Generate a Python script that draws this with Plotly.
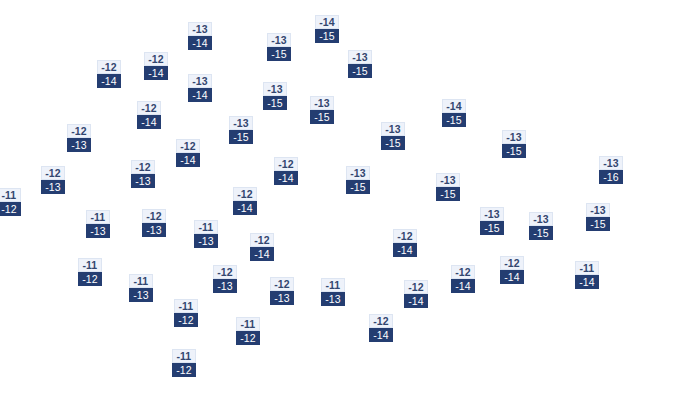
import plotly.graph_objects as go

# Station map positions (map units, y grows downward) and forecast values
site_x = [200, 327, 279, 156, 109, 360, 200, 275, 322, 149, 454, 241, 79, 393, 514,
          188, 286, 358, 611, 53, 143, 448, 9, 245, 98, 154, 492, 541, 598, 206,
          262, 405, 90, 512, 463, 587, 141, 225, 282, 333, 416, 186, 248, 381, 184]
site_y = [36, 29, 47, 66, 74, 64, 88, 96, 110, 115, 113, 130, 138, 136, 144,
          153, 171, 180, 170, 180, 174, 187, 202, 201, 224, 223, 221, 226, 217, 234,
          247, 243, 272, 270, 279, 275, 288, 279, 291, 292, 294, 313, 331, 328, 363]
high = [-13, -14, -13, -12, -12, -13, -13, -13, -13, -12, -14, -13, -12, -13, -13,
        -12, -12, -13, -13, -12, -12, -13, -11, -12, -11, -12, -13, -13, -13, -11,
        -12, -12, -11, -12, -12, -11, -11, -12, -12, -11, -12, -11, -11, -12, -11]
low = [-14, -15, -15, -14, -14, -15, -14, -15, -15, -14, -15, -15, -13, -15, -15,
       -14, -14, -15, -16, -13, -13, -15, -12, -14, -13, -13, -15, -15, -15, -13,
       -14, -14, -12, -14, -14, -14, -13, -13, -13, -13, -14, -12, -12, -14, -12]

fig = go.Figure()
fig.add_trace(go.Scatter(x=site_x, y=site_y, mode="markers",
                         marker=dict(size=1, opacity=0), hoverinfo="skip",
                         showlegend=False))

annotations = []
for x, y, h, l in zip(site_x, site_y, high, low):
    annotations.append(dict(
        x=x, y=y, xref="x", yref="y", text=f"<b>{h}</b>", showarrow=False,
        xanchor="center", yanchor="bottom", width=22, height=12,
        bgcolor="#eef2fa", bordercolor="#dde5f2", borderwidth=1, borderpad=0,
        font=dict(family="Liberation Sans, Arial, sans-serif", size=10.5, color="#33466f")))
    annotations.append(dict(
        x=x, y=y, xref="x", yref="y", text=f"{l}", showarrow=False,
        xanchor="center", yanchor="top", width=22, height=12,
        bgcolor="#243d71", bordercolor="#243d71", borderwidth=1, borderpad=0,
        font=dict(family="Liberation Sans, Arial, sans-serif", size=10.5, color="#ffffff")))

fig.update_layout(
    width=700, height=410,
    margin=dict(l=0, r=0, t=0, b=0),
    paper_bgcolor="white", plot_bgcolor="white",
    xaxis=dict(range=[0, 700], visible=False, fixedrange=True),
    yaxis=dict(range=[410, 0], visible=False, fixedrange=True),
    annotations=annotations,
    showlegend=False,
)

fig.write_html(
    "out.html",
    config={"displayModeBar": False},
    post_script="document.body.style.margin='0';document.body.style.overflow='hidden';",
)
